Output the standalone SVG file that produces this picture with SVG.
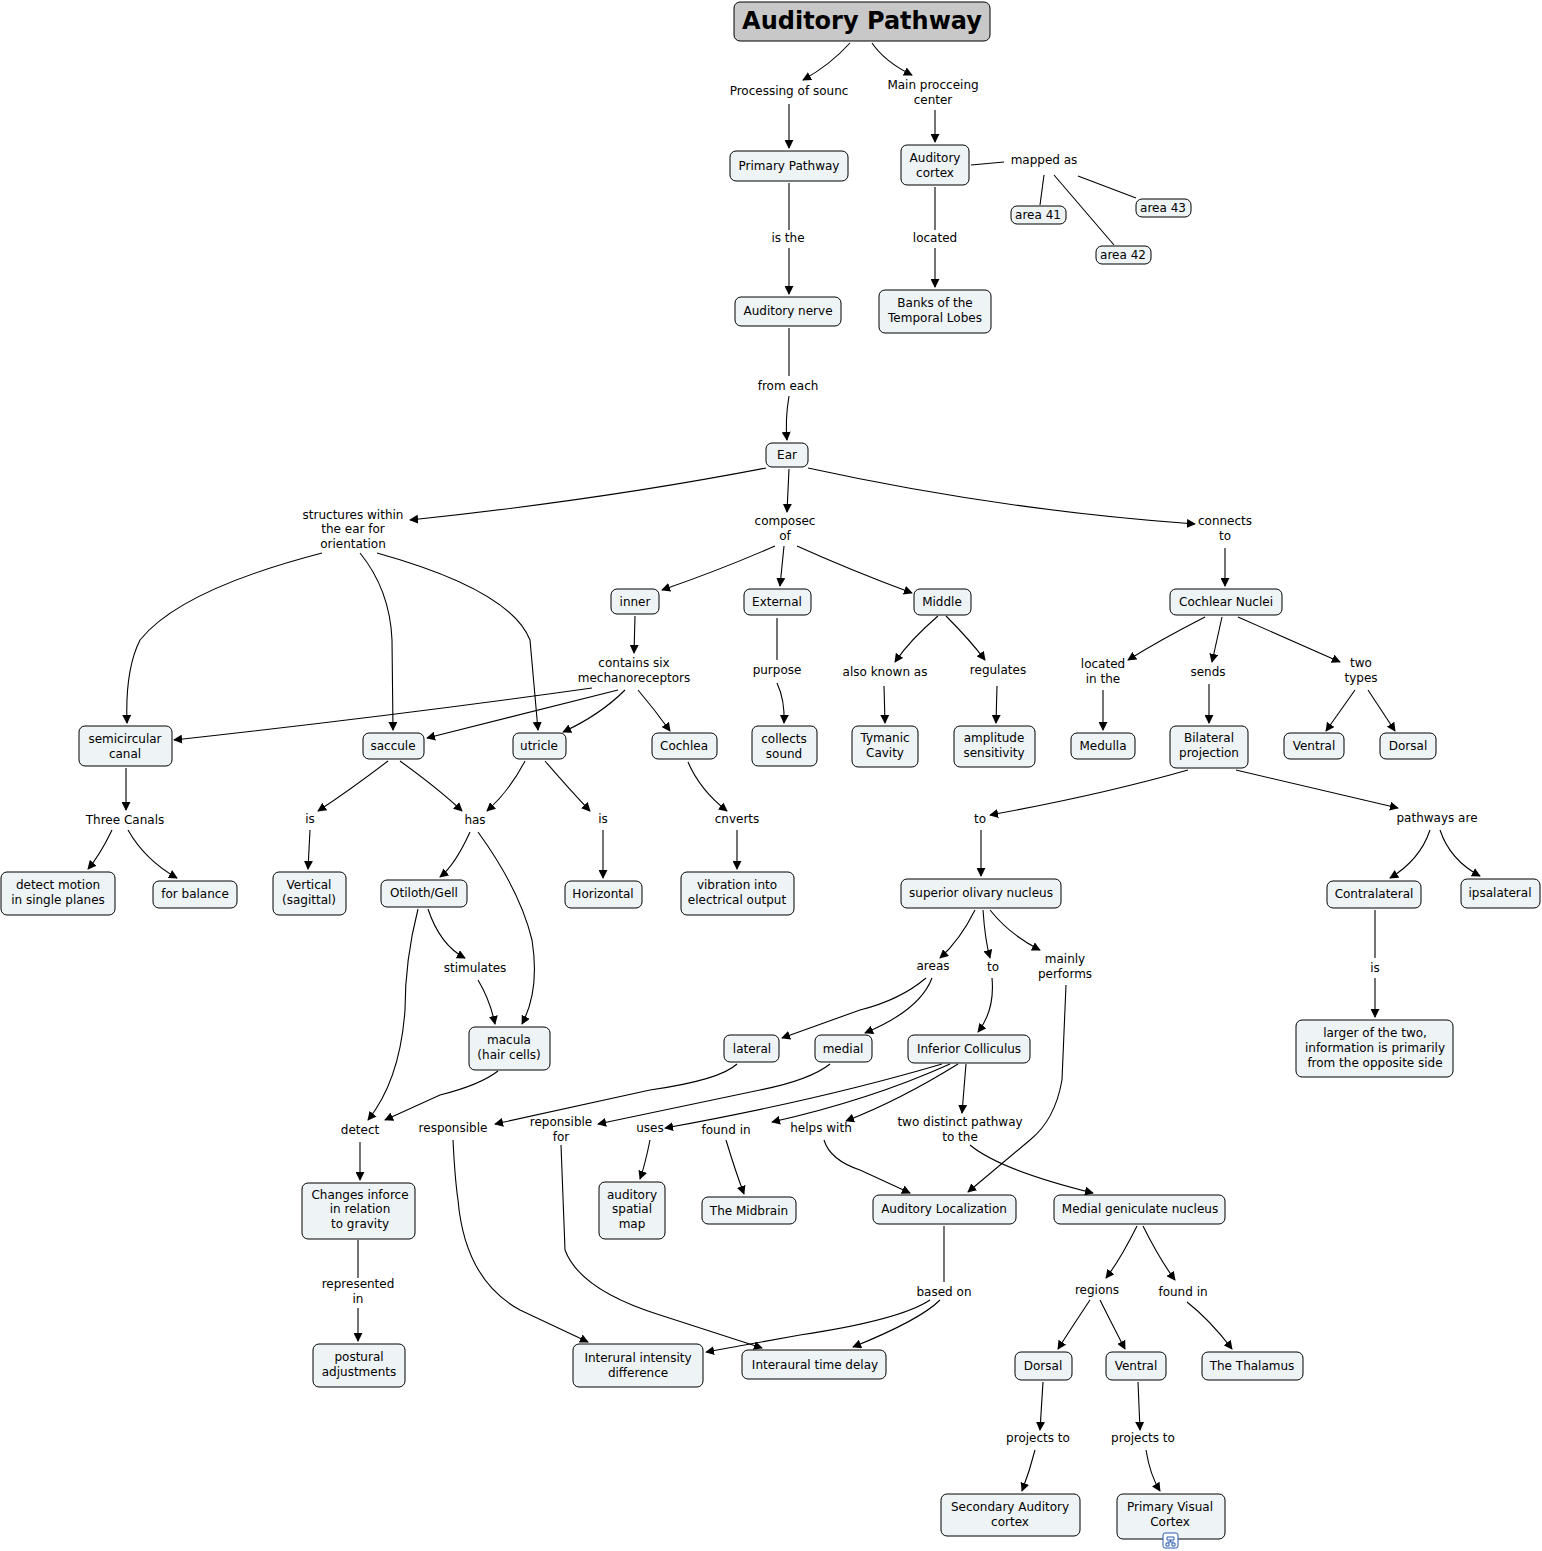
<svg xmlns="http://www.w3.org/2000/svg" width="1542" height="1551" viewBox="0 0 1542 1551">
<defs>
<marker id="a" viewBox="0 0 10 10" refX="9" refY="5" markerWidth="9" markerHeight="9" markerUnits="userSpaceOnUse" orient="auto"><path d="M0,0 L10,5 L0,10 Z" fill="#000"/></marker>
<style>
text{font-family:"DejaVu Sans",Verdana,sans-serif;font-size:12px;fill:#000;text-anchor:middle}
.n rect{fill:#eef3f6;stroke:#000;stroke-width:1}
#c path{fill:none;stroke:#000;stroke-width:1.1}
#c .a{marker-end:url(#a)}
</style>
</defs>
<rect width="1542" height="1551" fill="#fff"/>
<g id="c">
<path class="a" d="M850,43 Q830,65 803,80"/>
<path class="a" d="M872,43 Q885,62 912,75"/>
<path class="a" d="M789,104 L789,148"/>
<path class="a" d="M935,110 L935,142"/>
<path d="M971,165 L1004,162"/>
<path d="M1044,175 L1040,205"/>
<path d="M1078,176 L1136,198"/>
<path d="M1054,175 L1114,245"/>
<path d="M789,183 L789,230"/>
<path class="a" d="M789,248 L789,294"/>
<path d="M935,187 L935,230"/>
<path class="a" d="M935,248 L935,287"/>
<path d="M789,328 L789,376"/>
<path class="a" d="M789,396 Q785,420 787,440"/>
<path class="a" d="M766,468 Q600,500 410,520"/>
<path class="a" d="M789,469 L787,512"/>
<path class="a" d="M808,468 Q1000,510 1195,524"/>
<path class="a" d="M322,553 Q180,590 140,640 Q125,670 127,723"/>
<path class="a" d="M360,553 Q390,590 392,640 L393,730"/>
<path class="a" d="M377,553 Q510,590 530,640 L538,730"/>
<path class="a" d="M775,546 Q720,570 662,590"/>
<path class="a" d="M784,546 L780,586"/>
<path class="a" d="M797,546 Q850,570 912,593"/>
<path class="a" d="M635,616 L634,653"/>
<path class="a" d="M592,688 Q400,715 174,740"/>
<path class="a" d="M618,690 Q520,715 427,738"/>
<path class="a" d="M625,690 Q600,715 563,732"/>
<path class="a" d="M638,690 Q655,710 670,731"/>
<path d="M777,618 L777,660"/>
<path class="a" d="M777,683 Q785,700 784,723"/>
<path class="a" d="M938,616 Q910,640 895,662"/>
<path class="a" d="M946,616 Q970,640 985,660"/>
<path class="a" d="M884,686 L885,723"/>
<path class="a" d="M997,686 L996,723"/>
<path class="a" d="M1225,548 L1225,586"/>
<path class="a" d="M1205,617 Q1160,640 1128,660"/>
<path class="a" d="M1222,617 L1212,662"/>
<path class="a" d="M1238,617 Q1290,640 1340,662"/>
<path class="a" d="M1103,690 L1103,730"/>
<path class="a" d="M1209,684 L1209,723"/>
<path class="a" d="M1355,690 L1326,731"/>
<path class="a" d="M1368,690 L1395,731"/>
<path class="a" d="M126,768 L126,810"/>
<path class="a" d="M112,830 Q100,855 88,869"/>
<path class="a" d="M128,830 Q145,860 177,878"/>
<path class="a" d="M388,761 Q350,790 318,811"/>
<path class="a" d="M400,761 Q440,790 462,811"/>
<path class="a" d="M525,761 Q510,790 487,811"/>
<path class="a" d="M545,761 Q570,790 590,811"/>
<path class="a" d="M310,830 L308,869"/>
<path class="a" d="M603,830 L603,878"/>
<path class="a" d="M688,762 Q700,790 727,811"/>
<path class="a" d="M737,830 L737,869"/>
<path class="a" d="M470,832 Q455,865 440,877"/>
<path class="a" d="M478,832 Q520,890 532,940 Q540,990 522,1024"/>
<path class="a" d="M428,909 Q440,945 465,958"/>
<path class="a" d="M478,980 Q490,1000 495,1024"/>
<path class="a" d="M418,909 Q405,960 405,1010 Q400,1080 368,1120"/>
<path class="a" d="M498,1071 Q480,1085 440,1095 L385,1120"/>
<path class="a" d="M360,1142 L360,1180"/>
<path d="M358,1240 L358,1278"/>
<path class="a" d="M358,1308 L358,1341"/>
<path class="a" d="M1188,770 Q1100,795 990,815"/>
<path class="a" d="M1236,770 Q1320,790 1398,808"/>
<path class="a" d="M981,830 L981,876"/>
<path class="a" d="M1430,830 Q1420,860 1390,878"/>
<path class="a" d="M1440,830 Q1450,860 1480,876"/>
<path d="M1375,910 L1375,958"/>
<path class="a" d="M1375,978 L1375,1017"/>
<path class="a" d="M975,910 Q960,940 940,958"/>
<path class="a" d="M983,910 Q985,940 990,958"/>
<path class="a" d="M990,910 Q1010,935 1040,950"/>
<path class="a" d="M926,978 Q900,1000 860,1010 L782,1038"/>
<path class="a" d="M932,978 Q920,1010 865,1033"/>
<path class="a" d="M992,978 Q995,1010 978,1032"/>
<path class="a" d="M1066,985 L1062,1080 Q1055,1120 1030,1140 L968,1192"/>
<path class="a" d="M966,1064 L962,1113"/>
<path class="a" d="M958,1064 Q900,1100 846,1121"/>
<path class="a" d="M950,1064 Q870,1100 772,1122"/>
<path class="a" d="M942,1064 Q820,1100 665,1128"/>
<path class="a" d="M737,1064 Q720,1080 650,1090 L495,1124"/>
<path class="a" d="M830,1064 Q810,1080 760,1090 L598,1124"/>
<path class="a" d="M650,1140 Q645,1165 640,1179"/>
<path class="a" d="M726,1140 Q735,1170 744,1194"/>
<path class="a" d="M824,1140 Q830,1160 860,1170 L910,1193"/>
<path class="a" d="M970,1145 Q1000,1170 1093,1193"/>
<path d="M944,1226 L944,1282"/>
<path class="a" d="M940,1300 Q920,1320 853,1347"/>
<path class="a" d="M930,1300 Q900,1320 800,1335 L706,1352"/>
<path class="a" d="M453,1140 Q455,1180 458,1200 Q465,1280 520,1310 L588,1342"/>
<path class="a" d="M561,1145 L565,1250 Q580,1290 660,1315 L762,1348"/>
<path class="a" d="M1137,1226 Q1120,1260 1106,1278"/>
<path class="a" d="M1143,1226 Q1160,1260 1175,1280"/>
<path class="a" d="M1090,1300 Q1070,1330 1058,1349"/>
<path class="a" d="M1100,1300 Q1115,1330 1125,1349"/>
<path class="a" d="M1187,1302 Q1210,1320 1232,1349"/>
<path class="a" d="M1043,1382 L1040,1430"/>
<path class="a" d="M1138,1382 L1140,1430"/>
<path class="a" d="M1035,1450 Q1030,1470 1022,1491"/>
<path class="a" d="M1146,1450 Q1150,1475 1160,1491"/>
</g>
<g id="labels">
<text x="789" y="95">Processing of sounc</text>
<text x="933" y="89">Main procceing</text><text x="933" y="104">center</text>
<text x="1044" y="164">mapped as</text>
<text x="788" y="242">is the</text>
<text x="935" y="242">located</text>
<text x="788" y="390">from each</text>
<text x="353" y="519">structures within</text><text x="353" y="533">the ear for</text><text x="353" y="548">orientation</text>
<text x="785" y="525">composec</text><text x="785" y="540">of</text>
<text x="1225" y="525">connects</text><text x="1225" y="540">to</text>
<text x="634" y="667">contains six</text><text x="634" y="682">mechanoreceptors</text>
<text x="777" y="674">purpose</text>
<text x="885" y="676">also known as</text>
<text x="998" y="674">regulates</text>
<text x="1103" y="668">located</text><text x="1103" y="683">in the</text>
<text x="1208" y="676">sends</text>
<text x="1361" y="667">two</text><text x="1361" y="682">types</text>
<text x="125" y="824">Three Canals</text>
<text x="310" y="823">is</text>
<text x="475" y="824">has</text>
<text x="603" y="823">is</text>
<text x="737" y="823">cnverts</text>
<text x="980" y="823">to</text>
<text x="1437" y="822">pathways are</text>
<text x="475" y="972">stimulates</text>
<text x="933" y="970">areas</text>
<text x="993" y="971">to</text>
<text x="1065" y="963">mainly</text><text x="1065" y="978">performs</text>
<text x="1375" y="972">is</text>
<text x="360" y="1134">detect</text>
<text x="453" y="1132">responsible</text>
<text x="561" y="1126">reponsible</text><text x="561" y="1141">for</text>
<text x="650" y="1132">uses</text>
<text x="726" y="1134">found in</text>
<text x="821" y="1132">helps with</text>
<text x="960" y="1126">two distinct pathway</text><text x="960" y="1141">to the</text>
<text x="358" y="1288">represented</text><text x="358" y="1303">in</text>
<text x="944" y="1296">based on</text>
<text x="1097" y="1294">regions</text>
<text x="1183" y="1296">found in</text>
<text x="1038" y="1442">projects to</text>
<text x="1143" y="1442">projects to</text>
</g>
<g id="title"><rect x="734" y="2" width="256" height="39" rx="6" fill="#c8c8c8" stroke="#000"/><text x="862" y="29" style="font-size:24px;font-weight:bold">Auditory Pathway</text></g>
<g class="n" id="n1"><rect x="730" y="151" width="118" height="30" rx="6"/><text x="789" y="170">Primary Pathway</text></g>
<g class="n" id="n2"><rect x="901" y="145" width="68" height="40" rx="6"/><text x="935" y="162">Auditory</text><text x="935" y="177">cortex</text></g>
<g class="n" id="n3"><rect x="1011" y="206" width="55" height="18" rx="6"/><text x="1038" y="219">area 41</text></g>
<g class="n" id="n4"><rect x="1136" y="199" width="55" height="18" rx="6"/><text x="1163" y="212">area 43</text></g>
<g class="n" id="n5"><rect x="1096" y="246" width="55" height="18" rx="6"/><text x="1123" y="259">area 42</text></g>
<g class="n" id="n6"><rect x="879" y="290" width="112" height="43" rx="6"/><text x="935" y="307">Banks of the</text><text x="935" y="322">Temporal Lobes</text></g>
<g class="n" id="n7"><rect x="735" y="297" width="106" height="29" rx="6"/><text x="788" y="315">Auditory nerve</text></g>
<g class="n" id="n8"><rect x="766" y="443" width="42" height="24" rx="6"/><text x="787" y="459">Ear</text></g>
<g class="n" id="n9"><rect x="611" y="589" width="48" height="25" rx="6"/><text x="635" y="606">inner</text></g>
<g class="n" id="n10"><rect x="744" y="589" width="67" height="26" rx="6"/><text x="777" y="606">External</text></g>
<g class="n" id="n11"><rect x="914" y="589" width="57" height="26" rx="6"/><text x="942" y="606">Middle</text></g>
<g class="n" id="n12"><rect x="1170" y="589" width="112" height="26" rx="6"/><text x="1226" y="606">Cochlear Nuclei</text></g>
<g class="n" id="n13"><rect x="79" y="726" width="93" height="40" rx="6"/><text x="125" y="743">semicircular</text><text x="125" y="758">canal</text></g>
<g class="n" id="n14"><rect x="363" y="733" width="61" height="26" rx="6"/><text x="393" y="750">saccule</text></g>
<g class="n" id="n15"><rect x="513" y="733" width="53" height="26" rx="6"/><text x="539" y="750">utricle</text></g>
<g class="n" id="n16"><rect x="652" y="733" width="65" height="26" rx="6"/><text x="684" y="750">Cochlea</text></g>
<g class="n" id="n17"><rect x="752" y="726" width="65" height="40" rx="6"/><text x="784" y="743">collects</text><text x="784" y="758">sound</text></g>
<g class="n" id="n18"><rect x="852" y="726" width="66" height="41" rx="6"/><text x="885" y="742">Tymanic</text><text x="885" y="757">Cavity</text></g>
<g class="n" id="n19"><rect x="954" y="726" width="81" height="41" rx="6"/><text x="994" y="742">amplitude</text><text x="994" y="757">sensitivity</text></g>
<g class="n" id="n20"><rect x="1071" y="733" width="64" height="26" rx="6"/><text x="1103" y="750">Medulla</text></g>
<g class="n" id="n21"><rect x="1170" y="726" width="78" height="42" rx="6"/><text x="1209" y="742">Bilateral</text><text x="1209" y="757">projection</text></g>
<g class="n" id="n22"><rect x="1284" y="733" width="60" height="26" rx="6"/><text x="1314" y="750">Ventral</text></g>
<g class="n" id="n23"><rect x="1380" y="733" width="56" height="26" rx="6"/><text x="1408" y="750">Dorsal</text></g>
<g class="n" id="n24"><rect x="1" y="872" width="114" height="43" rx="6"/><text x="58" y="889">detect motion</text><text x="58" y="904">in  single planes</text></g>
<g class="n" id="n25"><rect x="153" y="881" width="84" height="27" rx="6"/><text x="195" y="898">for balance</text></g>
<g class="n" id="n26"><rect x="273" y="872" width="73" height="43" rx="6"/><text x="309" y="889">Vertical</text><text x="309" y="904">(sagittal)</text></g>
<g class="n" id="n27"><rect x="381" y="880" width="86" height="27" rx="6"/><text x="424" y="897">Otiloth/Gell</text></g>
<g class="n" id="n28"><rect x="565" y="881" width="77" height="27" rx="6"/><text x="603" y="898">Horizontal</text></g>
<g class="n" id="n29"><rect x="681" y="872" width="113" height="43" rx="6"/><text x="737" y="889">vibration into</text><text x="737" y="904">electrical output</text></g>
<g class="n" id="n30"><rect x="901" y="879" width="160" height="29" rx="6"/><text x="981" y="897">superior olivary nucleus</text></g>
<g class="n" id="n31"><rect x="1327" y="881" width="94" height="27" rx="6"/><text x="1374" y="898">Contralateral</text></g>
<g class="n" id="n32"><rect x="1461" y="879" width="79" height="29" rx="6"/><text x="1500" y="897">ipsalateral</text></g>
<g class="n" id="n33"><rect x="469" y="1027" width="81" height="43" rx="6"/><text x="509" y="1044">macula</text><text x="509" y="1059">(hair cells)</text></g>
<g class="n" id="n34"><rect x="724" y="1035" width="55" height="27" rx="6"/><text x="752" y="1053">lateral</text></g>
<g class="n" id="n35"><rect x="815" y="1035" width="57" height="27" rx="6"/><text x="843" y="1053">medial</text></g>
<g class="n" id="n36"><rect x="908" y="1035" width="122" height="28" rx="6"/><text x="969" y="1053">Inferior Colliculus</text></g>
<g class="n" id="n37"><rect x="1296" y="1020" width="157" height="57" rx="6"/><text x="1375" y="1037">larger of the two,</text><text x="1375" y="1052">information is primarily</text><text x="1375" y="1067">from the opposite side</text></g>
<g class="n" id="n38"><rect x="302" y="1183" width="113" height="56" rx="6"/><text x="360" y="1199">Changes inforce</text><text x="360" y="1213">in relation</text><text x="360" y="1228">to gravity</text></g>
<g class="n" id="n39"><rect x="599" y="1182" width="66" height="57" rx="6"/><text x="632" y="1199">auditory</text><text x="632" y="1213">spatial</text><text x="632" y="1228">map</text></g>
<g class="n" id="n40"><rect x="702" y="1197" width="94" height="27" rx="6"/><text x="749" y="1215">The Midbrain</text></g>
<g class="n" id="n41"><rect x="873" y="1195" width="143" height="29" rx="6"/><text x="944" y="1213">Auditory Localization</text></g>
<g class="n" id="n42"><rect x="1054" y="1195" width="171" height="29" rx="6"/><text x="1140" y="1213">Medial geniculate nucleus</text></g>
<g class="n" id="n43"><rect x="313" y="1344" width="92" height="43" rx="6"/><text x="359" y="1361">postural</text><text x="359" y="1376">adjustments</text></g>
<g class="n" id="n44"><rect x="573" y="1344" width="130" height="43" rx="6"/><text x="638" y="1362">Interural intensity</text><text x="638" y="1377">difference</text></g>
<g class="n" id="n45"><rect x="742" y="1350" width="144" height="29" rx="6"/><text x="815" y="1369">Interaural time delay</text></g>
<g class="n" id="n46"><rect x="1015" y="1352" width="57" height="28" rx="6"/><text x="1043" y="1370">Dorsal</text></g>
<g class="n" id="n47"><rect x="1106" y="1352" width="60" height="28" rx="6"/><text x="1136" y="1370">Ventral</text></g>
<g class="n" id="n48"><rect x="1202" y="1352" width="101" height="28" rx="6"/><text x="1252" y="1370">The Thalamus</text></g>
<g class="n" id="n49"><rect x="941" y="1494" width="139" height="42" rx="6"/><text x="1010" y="1511">Secondary Auditory</text><text x="1010" y="1526">cortex</text></g>
<g class="n" id="n50"><rect x="1117" y="1494" width="108" height="45" rx="6"/><text x="1170" y="1511">Primary Visual</text><text x="1170" y="1526">Cortex</text>
<rect x="1163" y="1533" width="15" height="15" rx="2" style="fill:#fff;stroke:#2a5db0"/><path d="M1167,1537h7v3h-7zM1166,1543h3v3h-3zM1172,1543h3v3h-3zM1170.5,1540v2M1167.5,1542h6" fill="none" stroke="#2a5db0"/></g>
</svg>
